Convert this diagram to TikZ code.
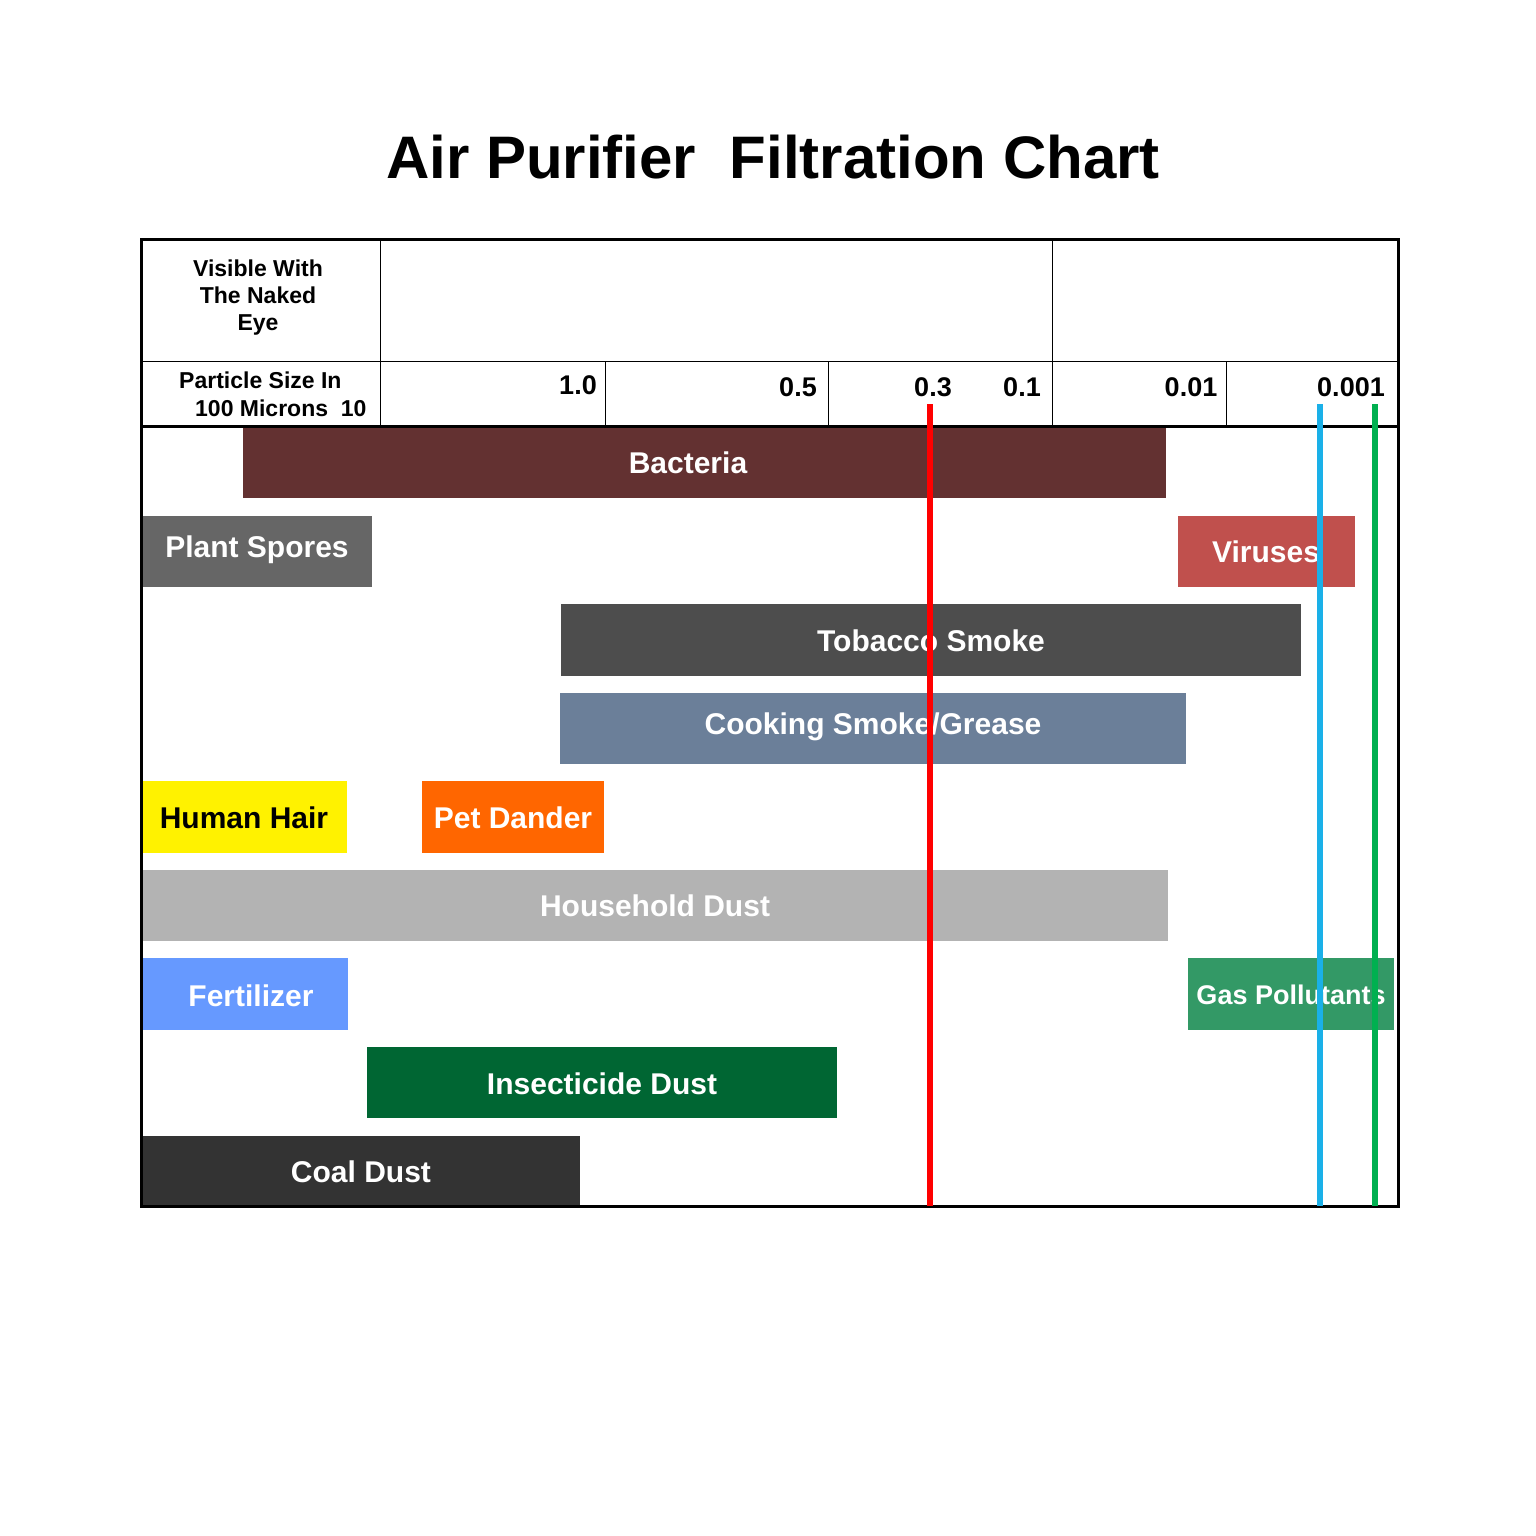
\documentclass[tikz,border=0pt]{standalone}
\usepackage{fontspec}
\setmainfont{Liberation Sans}
\begin{document}
\begin{tikzpicture}[x=1pt,y=-1pt,
 bar/.style={fill=#1,draw=none},
 lbl/.style={font=\fontsize{30}{34}\selectfont\bfseries,text=white,inner sep=0},
 hd/.style={font=\fontsize{23}{27}\selectfont\bfseries,inner sep=0},
 vl/.style={line width=6pt}]
\useasboundingbox (0,0) rectangle (1536,1536);
\definecolor{bac}{HTML}{633131}\definecolor{vir}{HTML}{C0504D}
\definecolor{tob}{HTML}{4D4D4D}\definecolor{coo}{HTML}{6B7F99}
\definecolor{pet}{HTML}{FF6600}\definecolor{hou}{HTML}{B3B3B3}
\definecolor{fer}{HTML}{6699FF}\definecolor{gas}{HTML}{339966}
\definecolor{ins}{HTML}{006633}\definecolor{coa}{HTML}{333333}
\definecolor{pla}{HTML}{666666}\definecolor{blu}{HTML}{1AB0E8}\definecolor{gre}{HTML}{00B050}
\node[font=\fontsize{60}{66}\selectfont\bfseries] (title) at (773,157) {Air Purifier\ \ Filtration Chart};
% bars
\fill[bac] (243,428) rectangle (1166,498); \node[lbl] (b1) at (688,463) {Bacteria};
\fill[pla] (141,516) rectangle (372,587); \node[lbl] (b2) at (257,550) {Plant Spores};
\fill[vir] (1178,516) rectangle (1355,587); \node[lbl] (b3) at (1266,552) {Viruses};
\fill[tob] (561,604) rectangle (1301,676); \node[lbl] (b4) at (931,641) {Tobacco Smoke};
\fill[coo] (560,693) rectangle (1186,764); \node[lbl] (b5) at (873,727) {Cooking Smoke/Grease};
\fill[yellow] (141,781) rectangle (347,853); \node[lbl,text=black] (b6) at (244,818) {Human Hair};
\fill[pet] (422,781) rectangle (604,853); \node[lbl] (b7) at (513,818) {Pet Dander};
\fill[hou] (141,870) rectangle (1168,941); \node[lbl] (b8) at (655,906) {Household Dust};
\fill[fer] (141,958) rectangle (348,1030); \node[lbl] (b9) at (251,996) {Fertilizer};
\fill[gas] (1188,958) rectangle (1394,1030); \node[lbl,font=\fontsize{27}{30}\selectfont\bfseries] (b10) at (1291,995) {Gas Pollutants};
\fill[ins] (367,1047) rectangle (837,1118); \node[lbl] (b11) at (602,1084) {Insecticide Dust};
\fill[coa] (141,1136) rectangle (580,1206); \node[lbl] (b12) at (361,1172) {Coal Dust};
% table
\draw[line width=3pt] (141,239) rectangle (1398,1206);
\draw[line width=3pt] (141,426) -- (1398,426);
\draw[line width=0.8pt] (141,361) -- (1398,361);
\draw[line width=0.8pt] (380,239) -- (380,426) (1052,239) -- (1052,426)
 (605,361) -- (605,426) (828,361) -- (828,426) (1226,361) -- (1226,426);
\node[hd,align=center] (h1) at (258,298) {Visible With\\The Naked\\Eye};
\node[hd,anchor=west] (h2) at (179,380) {Particle Size In};
\node[hd,anchor=west] (h3) at (195,408) {100 Microns\ \ 10};
\node[hd,font=\fontsize{27}{30}\selectfont\bfseries] at (578,385) {1.0};
\node[hd,font=\fontsize{27}{30}\selectfont\bfseries] at (798,387) {0.5};
\node[hd,font=\fontsize{27}{30}\selectfont\bfseries] at (933,387) {0.3};
\node[hd,font=\fontsize{27}{30}\selectfont\bfseries] at (1022,387) {0.1};
\node[hd,font=\fontsize{27}{30}\selectfont\bfseries] at (1191,387) {0.01};
\node[hd,font=\fontsize{27}{30}\selectfont\bfseries] at (1351,387) {0.001};
% lines
\draw[vl,red] (930,404) -- (930,1206);
\draw[vl,blu] (1320,404) -- (1320,1206);
\draw[vl,gre] (1375,404) -- (1375,1206);
\end{tikzpicture}
\end{document}
